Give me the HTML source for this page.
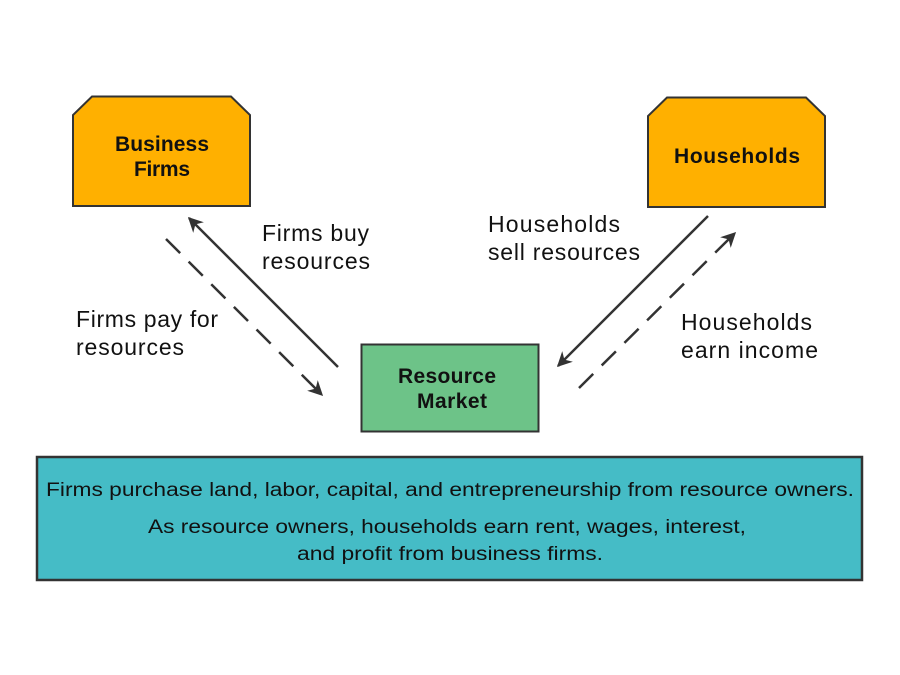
<!DOCTYPE html>
<html><head><meta charset="utf-8"><style>
html,body{margin:0;padding:0;background:#fff;}
svg{display:block;}
text{font-family:"Liberation Sans",sans-serif;fill:#111;}
</style></head><body>
<svg width="900" height="675" viewBox="0 0 900 675" xmlns="http://www.w3.org/2000/svg">
<defs>
<marker id="ah" viewBox="0 0 10 10" refX="9" refY="5" markerWidth="6" markerHeight="6" orient="auto" markerUnits="strokeWidth">
<path d="M0,0 L10,5 L0,10 L3,5 Z" fill="#333"/>
</marker>
</defs>
<polygon points="92,96.5 231,96.5 250,115 250,206 73,206 73,115" fill="#FFB000" stroke="#333" stroke-width="2"/>
<polygon points="667,97.5 806,97.5 825,116 825,207 648,207 648,116" fill="#FFB000" stroke="#333" stroke-width="2"/>
<rect x="361.5" y="344.5" width="177" height="87" fill="#6DC388" stroke="#333" stroke-width="2"/>
<rect x="37" y="457" width="825" height="123" fill="#45BCC6" stroke="#333" stroke-width="2.5"/>
<g font-size="21" font-weight="bold" lengthAdjust="spacingAndGlyphs">
<text x="115" y="151" textLength="94">Business</text>
<text x="134" y="176" textLength="56">Firms</text>
<text x="674" y="163" textLength="126">Households</text>
<text x="398" y="383" textLength="98">Resource</text>
<text x="417" y="408" textLength="70">Market</text>
</g>
<g stroke="#333" stroke-width="2.5" fill="none">
<line x1="338" y1="367" x2="189" y2="218" marker-end="url(#ah)"/>
<line x1="166" y1="239" x2="322" y2="395" stroke-dasharray="20,12" marker-end="url(#ah)"/>
<line x1="708" y1="216" x2="558" y2="366" marker-end="url(#ah)"/>
<line x1="579" y1="388" x2="735" y2="233" stroke-dasharray="20,12" marker-end="url(#ah)"/>
</g>
<g font-size="23" lengthAdjust="spacingAndGlyphs">
<text x="262" y="241" textLength="107">Firms buy</text>
<text x="262" y="269" textLength="108">resources</text>
<text x="76" y="327" textLength="142">Firms pay for</text>
<text x="76" y="355" textLength="108">resources</text>
<text x="488" y="232" textLength="132">Households</text>
<text x="488" y="260" textLength="152">sell resources</text>
<text x="681" y="330" textLength="131">Households</text>
<text x="681" y="358" textLength="137">earn income</text>
</g>
<g font-size="19" text-anchor="middle">
<text x="450" y="496" textLength="808" lengthAdjust="spacingAndGlyphs">Firms purchase land, labor, capital, and entrepreneurship from resource owners.</text>
<text x="447" y="533" textLength="598" lengthAdjust="spacingAndGlyphs">As resource owners, households earn rent, wages, interest,</text>
<text x="450" y="560" textLength="306" lengthAdjust="spacingAndGlyphs">and profit from business firms.</text>
</g>
</svg>
</body></html>
